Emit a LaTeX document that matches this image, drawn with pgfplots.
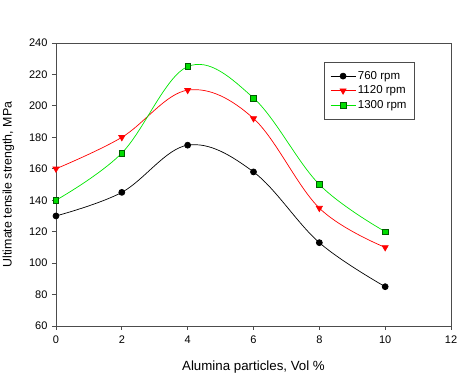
\documentclass[border=0pt]{standalone}
\usepackage{pgfplots}
\pgfplotsset{compat=1.18}
\usetikzlibrary{calc}
\usepackage{fontspec}
\setmainfont{Liberation Sans}
\begin{document}
\begin{tikzpicture}
\begin{axis}[
  scale only axis,
  width=395pt, height=283pt,
  xmin=0, xmax=12, ymin=60, ymax=240,
  xtick={0,2,...,12}, ytick={60,80,...,240},
  tick align=outside, xtick pos=left, ytick pos=left,
  major tick length=4pt,
  axis line style={black!70, line width=0.8pt},
  tick style={black!70, line width=0.8pt},
  /pgf/number format/assume math mode=true,
  tick label style={font=\fontsize{11}{12}\selectfont},
  xticklabel style={yshift=-2pt},
  yticklabel style={xshift=-1pt},
  xlabel={Alumina particles, Vol \%},
  ylabel={Ultimate tensile strength, MPa},
  xlabel style={font=\fontsize{13.3}{15}\selectfont, yshift=-11pt},
  ylabel style={font=\fontsize{12.4}{14}\selectfont, yshift=8pt},
  legend style={at={(0.678,0.933)}, anchor=north west, draw=black!70, line width=0.8pt,
    font=\fontsize{11.5}{12}\selectfont, row sep=1pt, inner xsep=6pt, inner ysep=7pt},
  legend cell align=left,
  legend image code/.code={\draw[mark repeat=2,mark phase=2] plot coordinates {(0cm,0cm)(0.44cm,0cm)(0.88cm,0cm)};},
]
\coordinate (sw) at (rel axis cs:0,0);
\coordinate (ne) at (rel axis cs:1,1);
\addplot[black, line width=0.7pt, smooth, tension=0.6, mark=*, mark size=3pt, mark options={fill=black}]
  coordinates {(0,130) (2,145) (4,175) (6,158) (8,113) (10,85)};
\addlegendentry{760 rpm}
\addplot[red, line width=0.7pt, smooth, tension=0.6, mark=triangle*, mark size=3.5pt, mark options={fill=red, rotate=180}]
  coordinates {(0,160) (2,180) (4,210) (6,192) (8,135) (10,110)};
\addlegendentry{1120 rpm}
\addplot[color={rgb,255:red,0;green,230;blue,0}, line width=0.7pt, smooth, tension=0.6, mark=square*, mark size=2.8pt, mark options={fill={rgb,255:red,0;green,220;blue,0}, draw={rgb,255:red,0;green,90;blue,0}, line width=0.6pt}]
  coordinates {(0,140) (2,170) (4,225) (6,205) (8,150) (10,120)};
\addlegendentry{1300 rpm}
\end{axis}
\pgfresetboundingbox
\path[use as bounding box] ($(sw)+(-56pt,-50pt)$) rectangle ($(ne)+(23pt,43pt)$);
\end{tikzpicture}
\end{document}
